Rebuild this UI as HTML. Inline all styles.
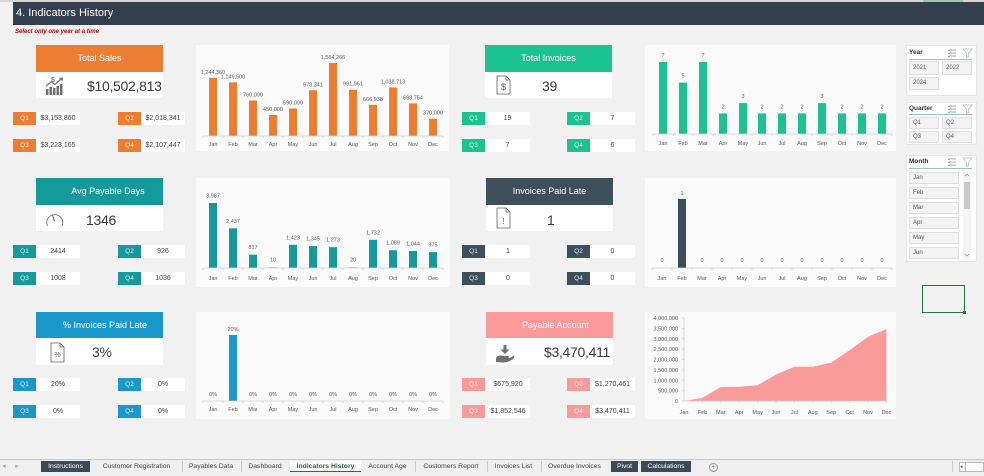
<!DOCTYPE html>
<html><head><meta charset="utf-8">
<style>
*{margin:0;padding:0;box-sizing:border-box}
body{width:984px;height:476px;overflow:hidden;background:#f1f1f1;font-family:"Liberation Sans",sans-serif;position:relative}
.a{position:absolute}
.hd{color:#fff;font-size:9px;text-align:center;line-height:27px;height:27px;width:127px;white-space:nowrap}
.bd{background:#fff;width:127px;height:26px}
.val{font-size:14px;color:#3a3a3a;letter-spacing:-0.3px;line-height:16px;white-space:nowrap}
.ql{width:23px;height:13px;font-size:6.5px;color:rgba(255,255,255,.85);text-align:center;line-height:13px}
.qv{height:13px;background:#fff;font-size:7px;color:#404040;text-align:center;line-height:13px;white-space:nowrap}
.pn{background:#fafafa}
.sl{background:#fff;border:1px solid #e6e6e6}
.st{font-size:6.5px;font-weight:bold;color:#333;line-height:8px}
.sb{background:#f3f3f3;border:1px solid #dedede;font-size:6px;color:#555;line-height:10px;padding-left:3px}
.tab{top:461px;height:11px;font-size:6.8px;color:#444;text-align:center;line-height:11px;white-space:nowrap}
.sep{top:461px;width:1px;height:11px;background:#c8c8c8}
</style></head><body>

<div class="a" style="left:0;top:0;width:984px;height:2px;background:#d6d6d6"></div>
<div class="a" style="left:923px;top:0;width:40px;height:2px;background:#9fc5b0"></div>
<div class="a" style="left:13px;top:2px;width:971px;height:23px;background:#333f4f;color:#fff;font-size:11px;line-height:23px;padding-left:3px">4. Indicators History</div>
<div class="a" style="left:15px;top:29px;font-size:6px;font-weight:bold;font-style:italic;color:#c00000;white-space:nowrap">Select only one year at a time</div>

<!-- Cards -->
<div class="a hd" style="left:36px;top:45px;background:#ed7d31">Total Sales</div>
<div class="a bd" style="left:36px;top:72px"></div>
<div class="a val" style="left:87px;top:78px">$10,502,813</div>

<div class="a hd" style="left:485px;top:45px;background:#1cc391">Total Invoices</div>
<div class="a bd" style="left:485px;top:72px"></div>
<div class="a val" style="left:542px;top:78px">39</div>

<div class="a hd" style="left:36px;top:178px;background:#16999b;padding-left:17px">Avg Payable Days</div>
<div class="a bd" style="left:36px;top:205px"></div>
<div class="a val" style="left:86px;top:212px">1346</div>

<div class="a hd" style="left:486px;top:178px;background:#3e4f5c">Invoices Paid Late</div>
<div class="a bd" style="left:486px;top:205px"></div>
<div class="a val" style="left:547px;top:212px">1</div>

<div class="a hd" style="left:36px;top:312px;background:#1a98c9;padding-left:11px">% Invoices Paid Late</div>
<div class="a bd" style="left:36px;top:338px;height:27px"></div>
<div class="a val" style="left:92px;top:344px">3%</div>

<div class="a hd" style="left:486px;top:312px;background:#fa9a9a;padding-left:12px">Payable Account</div>
<div class="a bd" style="left:486px;top:338px;height:27px"></div>
<div class="a val" style="left:544px;top:344px">$3,470,411</div>

<!-- Q boxes: Sales -->
<div class="a ql" style="left:13px;top:112px;background:#ed7d31">Q1</div><div class="a qv" style="left:36px;top:112px;width:44px">$3,153,860</div>
<div class="a ql" style="left:118px;top:112px;background:#ed7d31">Q2</div><div class="a qv" style="left:141px;top:112px;width:44px">$2,018,341</div>
<div class="a ql" style="left:13px;top:139px;background:#ed7d31">Q3</div><div class="a qv" style="left:36px;top:139px;width:44px">$3,223,165</div>
<div class="a ql" style="left:118px;top:139px;background:#ed7d31">Q4</div><div class="a qv" style="left:141px;top:139px;width:44px">$2,107,447</div>
<!-- Invoices -->
<div class="a ql" style="left:462px;top:112px;background:#1cc391">Q1</div><div class="a qv" style="left:485px;top:112px;width:45px">19</div>
<div class="a ql" style="left:567px;top:112px;background:#1cc391">Q2</div><div class="a qv" style="left:590px;top:112px;width:45px">7</div>
<div class="a ql" style="left:462px;top:139px;background:#1cc391">Q3</div><div class="a qv" style="left:485px;top:139px;width:45px">7</div>
<div class="a ql" style="left:567px;top:139px;background:#1cc391">Q4</div><div class="a qv" style="left:590px;top:139px;width:45px">6</div>
<!-- Avg -->
<div class="a ql" style="left:13px;top:245px;background:#16999b">Q1</div><div class="a qv" style="left:36px;top:245px;width:44px">2414</div>
<div class="a ql" style="left:118px;top:245px;background:#16999b">Q2</div><div class="a qv" style="left:141px;top:245px;width:44px">926</div>
<div class="a ql" style="left:13px;top:272px;background:#16999b">Q3</div><div class="a qv" style="left:36px;top:272px;width:44px">1008</div>
<div class="a ql" style="left:118px;top:272px;background:#16999b">Q4</div><div class="a qv" style="left:141px;top:272px;width:44px">1036</div>
<!-- Late -->
<div class="a ql" style="left:462px;top:245px;background:#3e4f5c">Q1</div><div class="a qv" style="left:486px;top:245px;width:44px">1</div>
<div class="a ql" style="left:567px;top:245px;background:#3e4f5c">Q2</div><div class="a qv" style="left:590px;top:245px;width:45px">0</div>
<div class="a ql" style="left:462px;top:272px;background:#3e4f5c">Q3</div><div class="a qv" style="left:486px;top:272px;width:44px">0</div>
<div class="a ql" style="left:567px;top:272px;background:#3e4f5c">Q4</div><div class="a qv" style="left:590px;top:272px;width:45px">0</div>
<!-- % -->
<div class="a ql" style="left:13px;top:378px;background:#1a98c9">Q1</div><div class="a qv" style="left:36px;top:378px;width:44px">20%</div>
<div class="a ql" style="left:118px;top:378px;background:#1a98c9">Q2</div><div class="a qv" style="left:141px;top:378px;width:44px">0%</div>
<div class="a ql" style="left:13px;top:405px;background:#1a98c9">Q3</div><div class="a qv" style="left:36px;top:405px;width:44px">0%</div>
<div class="a ql" style="left:118px;top:405px;background:#1a98c9">Q4</div><div class="a qv" style="left:141px;top:405px;width:44px">0%</div>
<!-- Payable -->
<div class="a ql" style="left:462px;top:378px;background:#fa9a9a">Q1</div><div class="a qv" style="left:486px;top:378px;width:44px">$675,920</div>
<div class="a ql" style="left:567px;top:378px;background:#fa9a9a">Q2</div><div class="a qv" style="left:590px;top:378px;width:45px">$1,270,461</div>
<div class="a ql" style="left:462px;top:405px;background:#fa9a9a">Q3</div><div class="a qv" style="left:486px;top:405px;width:44px">$1,852,546</div>
<div class="a ql" style="left:567px;top:405px;background:#fa9a9a">Q4</div><div class="a qv" style="left:590px;top:405px;width:45px">$3,470,411</div>

<!-- Chart panels -->
<div class="a pn" style="left:196px;top:45px;width:253px;height:106px"></div>
<div class="a pn" style="left:645px;top:45px;width:251px;height:106px"></div>
<div class="a pn" style="left:196px;top:178px;width:254px;height:109px"></div>
<div class="a pn" style="left:645px;top:178px;width:251px;height:109px"></div>
<div class="a pn" style="left:196px;top:312px;width:254px;height:107px"></div>
<div class="a pn" style="left:645px;top:312px;width:251px;height:107px"></div>

<!-- Slicers -->
<div class="a sl" style="left:906px;top:45px;width:71px;height:51px"></div>
<div class="a st" style="left:909px;top:49px">Year</div>
<div class="a" style="left:909px;top:59px;width:63px;height:1px;background:#9cc7bd"></div>
<div class="a sb" style="left:909px;top:61px;width:30px;height:14px;line-height:12px">2021</div>
<div class="a sb" style="left:942px;top:61px;width:30px;height:14px;line-height:12px">2022</div>
<div class="a sb" style="left:909px;top:77px;width:30px;height:13px;line-height:11px">2024</div>

<div class="a sl" style="left:906px;top:102px;width:71px;height:43px"></div>
<div class="a st" style="left:909px;top:105px">Quarter</div>
<div class="a" style="left:909px;top:114px;width:63px;height:1px;background:#9cc7bd"></div>
<div class="a sb" style="left:909px;top:117px;width:30px;height:12px">Q1</div>
<div class="a sb" style="left:942px;top:117px;width:30px;height:12px">Q2</div>
<div class="a sb" style="left:909px;top:131px;width:30px;height:12px">Q3</div>
<div class="a sb" style="left:942px;top:131px;width:30px;height:12px">Q4</div>

<div class="a sl" style="left:906px;top:155px;width:71px;height:107px"></div>
<div class="a st" style="left:909px;top:158px">Month</div>
<div class="a" style="left:909px;top:168px;width:63px;height:1px;background:#9cc7bd"></div>
<div class="a sb" style="left:909px;top:172px;width:50px;height:12px">Jan</div>
<div class="a sb" style="left:909px;top:187px;width:50px;height:12px">Feb</div>
<div class="a sb" style="left:909px;top:202px;width:50px;height:12px">Mar</div>
<div class="a sb" style="left:909px;top:217px;width:50px;height:12px">Apr</div>
<div class="a sb" style="left:909px;top:232px;width:50px;height:12px">May</div>
<div class="a sb" style="left:909px;top:247px;width:50px;height:12px">Jun</div>
<div class="a" style="left:963px;top:172px;width:8px;height:87px;background:#f4f4f4"></div>
<div class="a" style="left:964px;top:182px;width:6px;height:27px;background:#c9c9c9"></div>

<div class="a" style="left:922px;top:285px;width:43px;height:28px;border:1px solid #217346"></div>
<div class="a" style="left:963px;top:311px;width:3px;height:3px;background:#217346"></div>

<!-- Tabs -->
<div class="a" style="left:0;top:459px;width:984px;height:17px;background:#efefef;border-top:1px solid #c9c9c9"></div>
<div class="a tab" style="left:0;width:8px;color:#aaa">◂</div>
<div class="a tab" style="left:13px;width:8px;color:#aaa">▸</div>
<div class="a tab" style="left:41px;width:49px;background:#3b4a59;color:#fff">Instructions</div>
<div class="a tab" style="left:96px;width:81px">Customer Registration</div>
<div class="a sep" style="left:182px"></div>
<div class="a tab" style="left:185px;width:52px">Payables Data</div>
<div class="a sep" style="left:241px"></div>
<div class="a tab" style="left:244px;width:42px">Dashboard</div>
<div class="a tab" style="left:290px;width:71px;background:#fafafa;color:#217346;font-weight:bold;border-bottom:1px solid #217346">Indicators History</div>
<div class="a tab" style="left:364px;width:47px">Account Age</div>
<div class="a sep" style="left:415px"></div>
<div class="a tab" style="left:418px;width:66px">Customers Report</div>
<div class="a sep" style="left:487px"></div>
<div class="a tab" style="left:490px;width:47px">Invoices List</div>
<div class="a sep" style="left:541px"></div>
<div class="a tab" style="left:544px;width:61px">Overdue Invoices</div>
<div class="a tab" style="left:611px;width:27px;background:#3b4a59;color:#fff">Pivot</div>
<div class="a tab" style="left:641px;width:50px;background:#3b4a59;color:#fff">Calculations</div>
<div class="a" style="left:709px;top:463px;width:9px;height:9px;border:1px solid #999;border-radius:50%;font-size:7px;line-height:7px;text-align:center;color:#777">+</div>
<div class="a sep" style="left:952px"></div>
<div class="a" style="left:959px;top:462px;width:25px;height:10px;background:#fff;border:1px solid #bbb"></div>
<div class="a" style="left:960px;top:463px;width:6px;height:8px;border-right:1px solid #bbb;font-size:5px;line-height:8px;color:#555">◂</div>

<svg class="a" style="left:0;top:0" width="984" height="476" xmlns="http://www.w3.org/2000/svg" font-family="Liberation Sans, sans-serif">
<!-- Chart 1 Total Sales -->
<g fill="#ed7d31">
<rect x="209" y="77.9" width="8" height="58.1"/><rect x="229" y="82.4" width="8" height="53.6"/>
<rect x="249" y="100.5" width="8" height="35.5"/><rect x="269" y="115" width="8" height="21"/>
<rect x="289" y="108.5" width="8" height="27.5"/><rect x="309" y="90.3" width="8" height="45.7"/>
<rect x="329" y="63" width="8" height="73"/><rect x="349" y="89.7" width="8" height="46.3"/>
<rect x="369" y="104.9" width="8" height="31.1"/><rect x="389" y="87.5" width="8" height="48.5"/>
<rect x="409" y="103.4" width="8" height="32.6"/><rect x="429" y="118.7" width="8" height="17.3"/>
</g>
<g stroke="#cfcfcf" stroke-width="0.8">
<line x1="203" y1="136" x2="443" y2="136"/>
<path d="M203 136v2M223 136v2M243 136v2M263 136v2M283 136v2M303 136v2M323 136v2M343 136v2M363 136v2M383 136v2M403 136v2M423 136v2M443 136v2"/>
</g>
<g font-size="5.5" fill="#595959" text-anchor="middle">
<text x="213" y="74">1,244,360</text><text x="233" y="78.4">1,149,500</text><text x="253" y="96.5">760,000</text>
<text x="273" y="111">450,000</text><text x="293" y="104.5">590,000</text><text x="313" y="86.3">978,341</text>
<text x="333" y="59">1,564,266</text><text x="353" y="85.7">991,961</text><text x="373" y="100.9">666,938</text>
<text x="393" y="83.5">1,038,713</text><text x="413" y="99.4">698,754</text><text x="433" y="114.7">370,000</text>
<text x="213" y="146">Jan</text><text x="233" y="146">Feb</text><text x="253" y="146">Mar</text><text x="273" y="146">Apr</text>
<text x="293" y="146">May</text><text x="313" y="146">Jun</text><text x="333" y="146">Jul</text><text x="353" y="146">Aug</text>
<text x="373" y="146">Sep</text><text x="393" y="146">Oct</text><text x="413" y="146">Nov</text><text x="433" y="146">Dec</text>
</g>

<!-- Chart 2 Total Invoices -->
<g fill="#1cc391">
<rect x="659" y="62" width="8" height="72"/><rect x="679" y="82.6" width="8" height="51.4"/>
<rect x="699" y="62" width="8" height="72"/><rect x="719" y="113.4" width="8" height="20.6"/>
<rect x="739" y="103.1" width="8" height="30.9"/><rect x="758" y="113.4" width="8" height="20.6"/>
<rect x="778" y="113.4" width="8" height="20.6"/><rect x="798" y="113.4" width="8" height="20.6"/>
<rect x="818" y="103.1" width="8" height="30.9"/><rect x="838" y="113.4" width="8" height="20.6"/>
<rect x="858" y="113.4" width="8" height="20.6"/><rect x="878" y="113.4" width="8" height="20.6"/>
</g>
<g stroke="#cfcfcf" stroke-width="0.8">
<line x1="653" y1="134" x2="892" y2="134"/>
<path d="M653 134v2M673 134v2M693 134v2M713 134v2M733 134v2M752 134v2M772 134v2M792 134v2M812 134v2M832 134v2M852 134v2M872 134v2M892 134v2"/>
</g>
<g font-size="5.5" fill="#595959" text-anchor="middle">
<text x="663" y="57">7</text><text x="683" y="77.6">5</text><text x="703" y="57">7</text><text x="723" y="108.4">2</text>
<text x="743" y="98.1">3</text><text x="762" y="108.4">2</text><text x="782" y="108.4">2</text><text x="802" y="108.4">2</text>
<text x="822" y="98.1">3</text><text x="842" y="108.4">2</text><text x="862" y="108.4">2</text><text x="882" y="108.4">2</text>
<text x="663" y="145">Jan</text><text x="683" y="145">Feb</text><text x="703" y="145">Mar</text><text x="723" y="145">Apr</text>
<text x="743" y="145">May</text><text x="762" y="145">Jun</text><text x="782" y="145">Jul</text><text x="802" y="145">Aug</text>
<text x="822" y="145">Sep</text><text x="842" y="145">Oct</text><text x="862" y="145">Nov</text><text x="882" y="145">Dec</text>
</g>

<!-- Chart 3 Avg Payable Days -->
<g fill="#16999b">
<rect x="209" y="203" width="8" height="65"/><rect x="229" y="228.3" width="8" height="39.7"/>
<rect x="249" y="254.7" width="8" height="13.3"/><rect x="269" y="267" width="8" height="1" fill="#a9d3d4"/>
<rect x="289" y="244.8" width="8" height="23.2"/><rect x="309" y="246.1" width="8" height="21.9"/>
<rect x="329" y="247.2" width="8" height="20.8"/><rect x="349" y="267" width="8" height="1" fill="#a9d3d4"/>
<rect x="369" y="239.8" width="8" height="28.2"/><rect x="389" y="250.2" width="8" height="17.8"/>
<rect x="409" y="251" width="8" height="17"/><rect x="429" y="252.1" width="8" height="15.9"/>
</g>
<g stroke="#cfcfcf" stroke-width="0.8">
<line x1="203" y1="268" x2="443" y2="268"/>
<path d="M203 268v2M223 268v2M243 268v2M263 268v2M283 268v2M303 268v2M323 268v2M343 268v2M363 268v2M383 268v2M403 268v2M423 268v2M443 268v2"/>
</g>
<g font-size="5.5" fill="#595959" text-anchor="middle">
<text x="213" y="197.5">3,987</text><text x="233" y="222.8">2,437</text><text x="253" y="249.2">817</text>
<text x="273" y="261.5">10</text><text x="293" y="239.3">1,423</text><text x="313" y="240.6">1,345</text>
<text x="333" y="241.7">1,273</text><text x="353" y="261.5">20</text><text x="373" y="234.3">1,732</text>
<text x="393" y="244.7">1,089</text><text x="413" y="245.5">1,044</text><text x="433" y="246.6">975</text>
<text x="213" y="280">Jan</text><text x="233" y="280">Feb</text><text x="253" y="280">Mar</text><text x="273" y="280">Apr</text>
<text x="293" y="280">May</text><text x="313" y="280">Jun</text><text x="333" y="280">Jul</text><text x="353" y="280">Aug</text>
<text x="373" y="280">Sep</text><text x="393" y="280">Oct</text><text x="413" y="280">Nov</text><text x="433" y="280">Dec</text>
</g>

<!-- Chart 4 Invoices Paid Late -->
<rect x="678" y="199" width="8" height="69" fill="#3e4f5c"/>
<g stroke="#cfcfcf" stroke-width="0.8">
<line x1="652" y1="268" x2="892" y2="268"/>
<path d="M652 268v2M672 268v2M692 268v2M712 268v2M732 268v2M752 268v2M772 268v2M792 268v2M812 268v2M832 268v2M852 268v2M872 268v2M892 268v2"/>
</g>
<g font-size="5.5" fill="#595959" text-anchor="middle">
<text x="682" y="195">1</text>
<text x="662" y="262">0</text><text x="702" y="262">0</text><text x="722" y="262">0</text><text x="742" y="262">0</text>
<text x="762" y="262">0</text><text x="782" y="262">0</text><text x="802" y="262">0</text><text x="822" y="262">0</text>
<text x="842" y="262">0</text><text x="862" y="262">0</text><text x="882" y="262">0</text>
<text x="662" y="280">Jan</text><text x="682" y="280">Feb</text><text x="702" y="280">Mar</text><text x="722" y="280">Apr</text>
<text x="742" y="280">May</text><text x="762" y="280">Jun</text><text x="782" y="280">Jul</text><text x="802" y="280">Aug</text>
<text x="822" y="280">Sep</text><text x="842" y="280">Oct</text><text x="862" y="280">Nov</text><text x="882" y="280">Dec</text>
</g>

<!-- Chart 5 % Invoices Paid Late -->
<rect x="229" y="335" width="8" height="66" fill="#1a98c9"/>
<g stroke="#cfcfcf" stroke-width="0.8">
<line x1="203" y1="401" x2="443" y2="401"/>
<path d="M203 401v2M223 401v2M243 401v2M263 401v2M283 401v2M303 401v2M323 401v2M343 401v2M363 401v2M383 401v2M403 401v2M423 401v2M443 401v2"/>
</g>
<g font-size="5.5" fill="#595959" text-anchor="middle">
<text x="233" y="331">20%</text>
<text x="213" y="396">0%</text><text x="253" y="396">0%</text><text x="273" y="396">0%</text><text x="293" y="396">0%</text>
<text x="313" y="396">0%</text><text x="333" y="396">0%</text><text x="353" y="396">0%</text><text x="373" y="396">0%</text>
<text x="393" y="396">0%</text><text x="413" y="396">0%</text><text x="433" y="396">0%</text>
<text x="213" y="411">Jan</text><text x="233" y="411">Feb</text><text x="253" y="411">Mar</text><text x="273" y="411">Apr</text>
<text x="293" y="411">May</text><text x="313" y="411">Jun</text><text x="333" y="411">Jul</text><text x="353" y="411">Aug</text>
<text x="373" y="411">Sep</text><text x="393" y="411">Oct</text><text x="413" y="411">Nov</text><text x="433" y="411">Dec</text>
</g>

<!-- Chart 6 Payable Account area -->
<path d="M684 401 L684 401 L702.4 397.9 L720.8 387 L739.2 386.7 L757.6 385.2 L776 374.6 L794.4 366.8 L812.8 366.8 L831.2 362.6 L849.6 350.2 L868 336.7 L886.4 329 L886.4 401 Z" fill="#f99b9b"/>
<g stroke="#cfcfcf" stroke-width="0.8">
<line x1="684" y1="318" x2="684" y2="401"/>
<line x1="684" y1="401" x2="887" y2="401"/>
<path d="M682 318h2M682 328.4h2M682 338.75h2M682 349.1h2M682 359.5h2M682 369.9h2M682 380.25h2M682 390.6h2M682 401h2"/>
<path d="M702.4 401v2M720.8 401v2M739.2 401v2M757.6 401v2M776 401v2M794.4 401v2M812.8 401v2M831.2 401v2M849.6 401v2M868 401v2M886.4 401v2"/>
</g>
<g font-size="5.5" fill="#595959" text-anchor="end">
<text x="678" y="320">4,000,000</text><text x="678" y="330.4">3,500,000</text><text x="678" y="340.75">3,000,000</text>
<text x="678" y="351.1">2,500,000</text><text x="678" y="361.5">2,000,000</text><text x="678" y="371.9">1,500,000</text>
<text x="678" y="382.25">1,000,000</text><text x="678" y="392.6">500,000</text><text x="678" y="403">0</text>
</g>
<g font-size="5.5" fill="#595959" text-anchor="middle">
<text x="684" y="414">Jan</text><text x="702.4" y="414">Feb</text><text x="720.8" y="414">Mar</text><text x="739.2" y="414">Apr</text>
<text x="757.6" y="414">May</text><text x="776" y="414">Jun</text><text x="794.4" y="414">Jul</text><text x="812.8" y="414">Aug</text>
<text x="831.2" y="414">Sep</text><text x="849.6" y="414">Oct</text><text x="868" y="414">Nov</text><text x="886.4" y="414">Dec</text>
</g>

<!-- Icons -->
<g fill="#707070">
<rect x="46" y="89" width="2.5" height="6"/><rect x="49.5" y="87" width="2.5" height="8"/>
<rect x="53" y="88" width="2.5" height="7"/><rect x="56.5" y="86" width="2.5" height="9"/>
<rect x="60" y="84" width="2.5" height="11"/>
<polyline points="46,86 51,82 55,84.5 61,79" fill="none" stroke="#707070" stroke-width="1.2"/>
<path d="M59 78 L63 77.5 L62.5 81.5 Z"/>
<text x="53" y="82" font-size="7" font-weight="bold" text-anchor="middle">$</text>
</g>
<g fill="none" stroke="#606060" stroke-width="0.8">
<path d="M497 76 H506 L510 80 V94 H497 Z"/><path d="M506 76 V80 H510"/>
<path d="M497 228 H510 V212 L506 208 H497 Z"/><path d="M506 208 V212 H510"/>
<path d="M51 343 H60 L64 347 V362 H51 Z"/><path d="M60 343 V347 H64"/>
<path d="M47.5 226 A8 8 0 1 1 62 226"/>
<line x1="54.5" y1="221" x2="52.5" y2="215" stroke-width="1"/>
</g>
<g fill="#606060" text-anchor="middle">
<text x="503.5" y="90" font-size="9">$</text>
<text x="503.5" y="224" font-size="8">!</text>
<text x="57.5" y="357" font-size="7">%</text>
</g>
<g fill="#707070">
<rect x="503.5" y="345" width="3" height="5"/>
<path d="M500.5 349.5 H509.5 L505 354 Z"/>
<path d="M496 358 Q499 354 503 356 L508 356 Q510 357 508 358.5 L503 358.5 L510 358 L514 355.5 Q515 357 513 359 Q509 362.5 503 362.5 L496 362 Z"/>
</g>
<!-- slicer header icons -->
<g stroke="#8a8a8a" stroke-width="0.7" fill="none">
<path d="M951 50h5M951 53h5M951 56h5M948 50l1 1 1.5-2M948 53l1 1 1.5-2M948 56l1 1 1.5-2"/>
<path d="M963 49h9l-3.5 4v3.5l-2 1v-4.5z" stroke="#b5b5b5"/>
<path d="M951 106h5M951 109h5M951 112h5M948 106l1 1 1.5-2M948 109l1 1 1.5-2M948 112l1 1 1.5-2"/>
<path d="M963 105h9l-3.5 4v3.5l-2 1v-4.5z" stroke="#b5b5b5"/>
<path d="M951 159h5M951 162h5M951 165h5M948 159l1 1 1.5-2M948 162l1 1 1.5-2M948 165l1 1 1.5-2"/>
<path d="M963 158h9l-3.5 4v3.5l-2 1v-4.5z" stroke="#b5b5b5"/>
<path d="M965 176l2-2 2 2M965 254l2 2 2-2"/>
</g>
</svg>
</body></html>
